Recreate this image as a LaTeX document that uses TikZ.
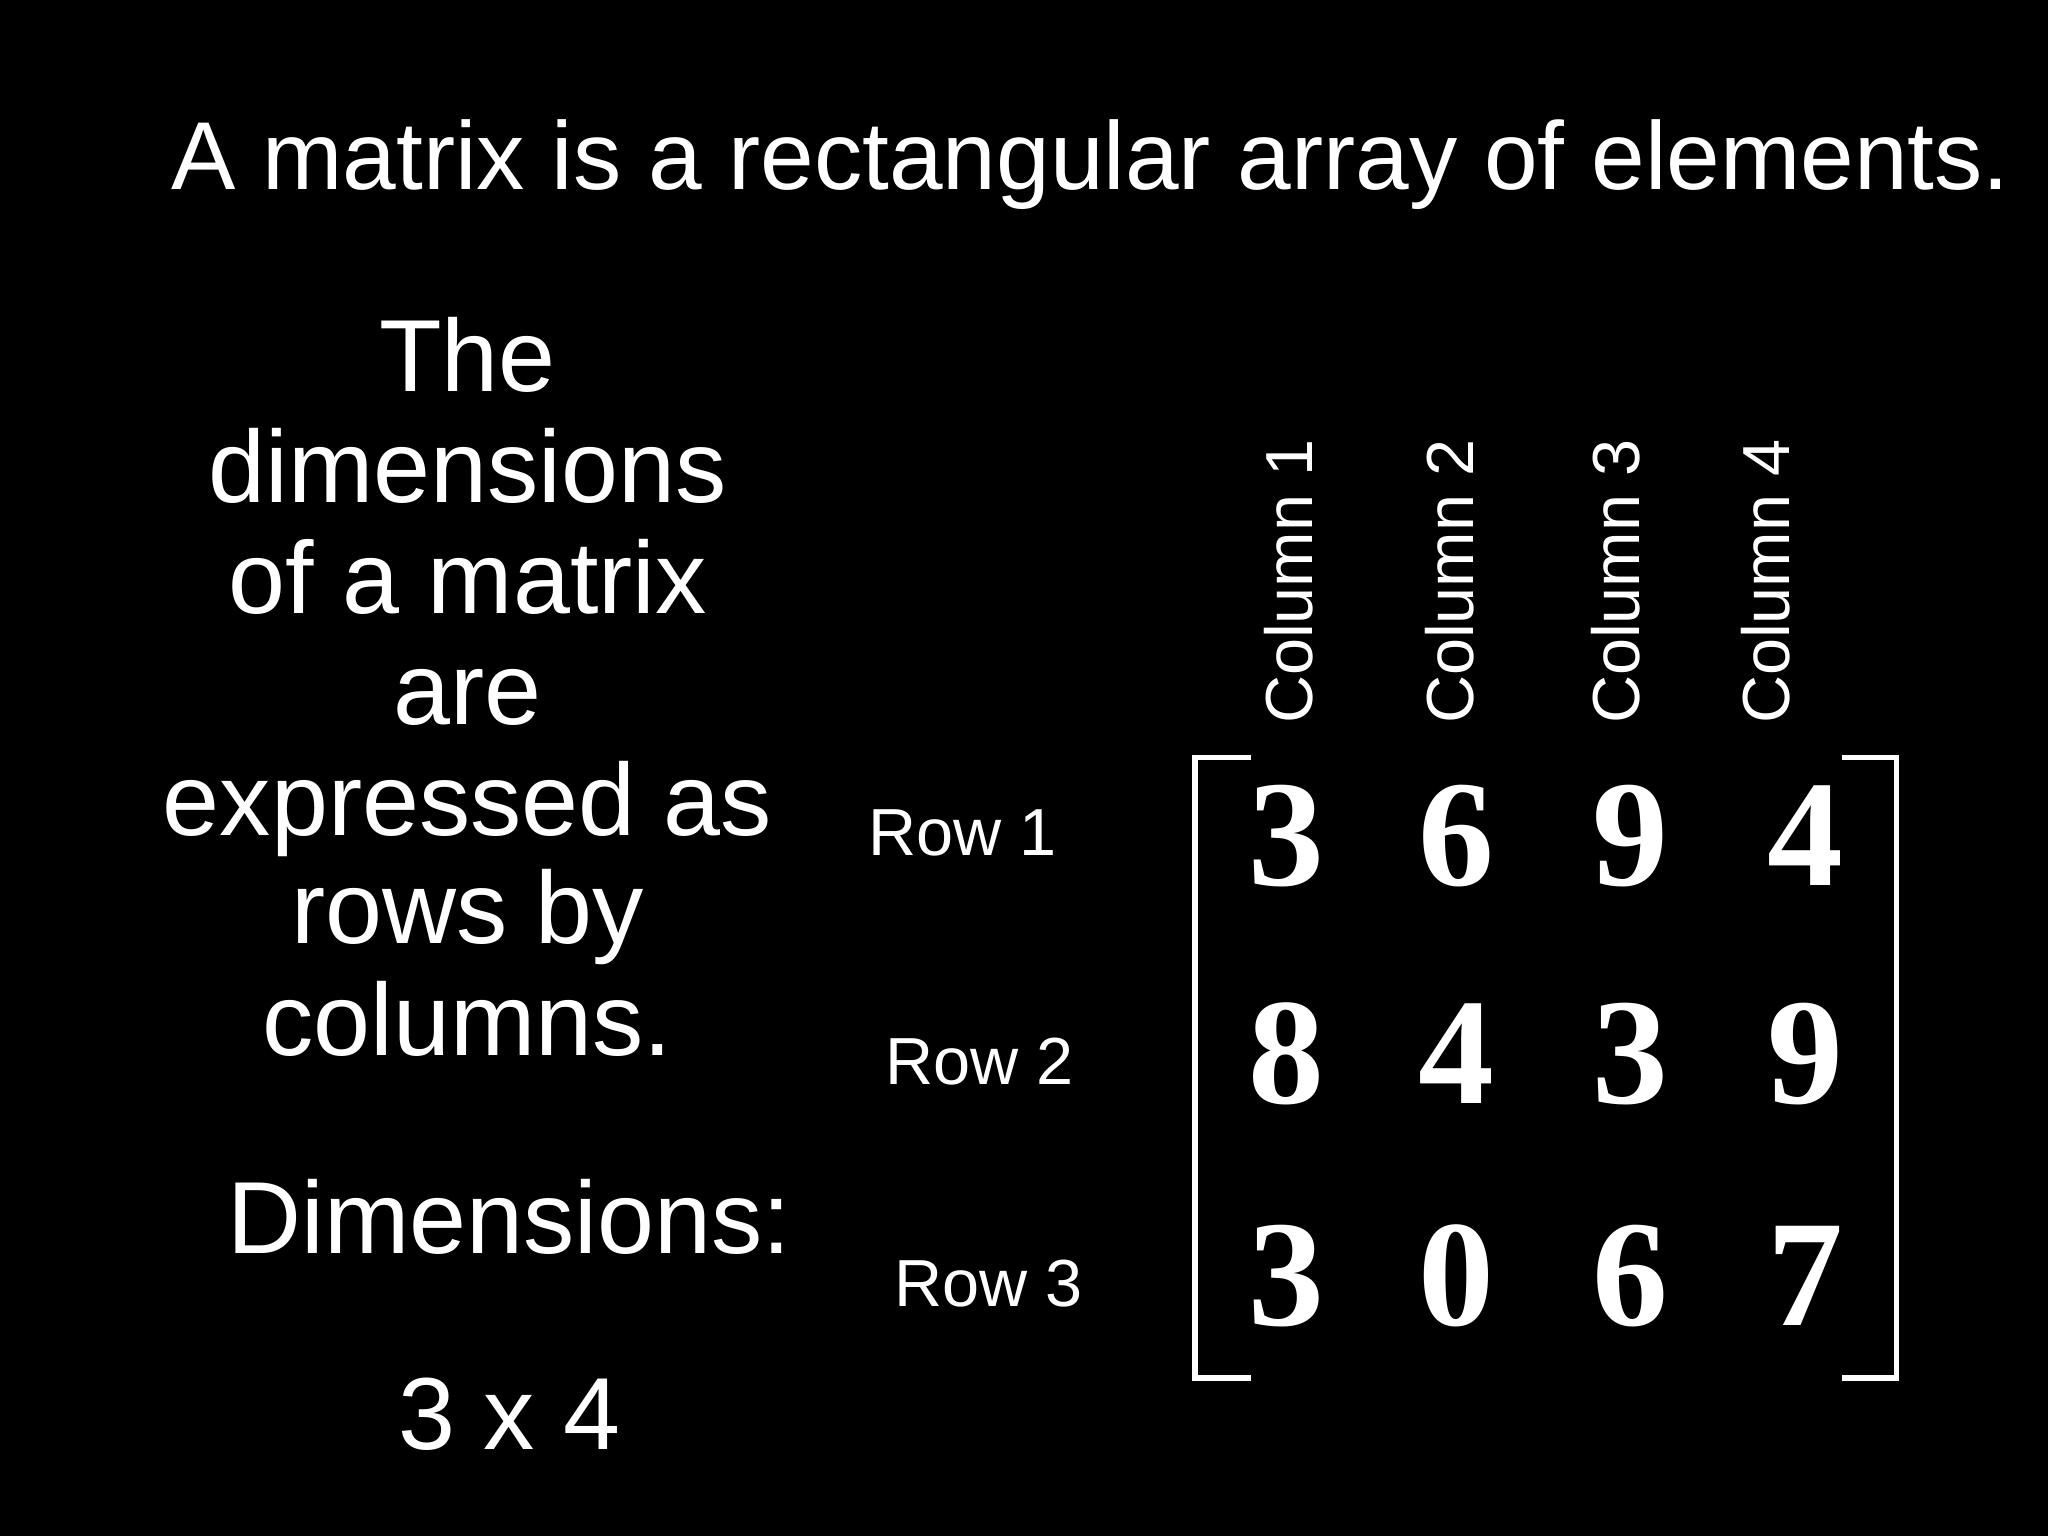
\documentclass[tikz,border=0pt]{standalone}
\usepackage{fontspec}
\setmainfont{Liberation Sans}
\newfontfamily\digitfont{Liberation Serif}
\begin{document}
\begin{tikzpicture}[x=0.01cm,y=-0.01cm,
  txt/.style={text=white,inner sep=0pt,anchor=base},
  big/.style={txt,font=\fontsize{22.3}{24}\selectfont},
  lbl/.style={txt,font=\fontsize{14.5}{16}\selectfont},
  dig/.style={txt,font=\digitfont\bfseries\fontsize{33}{36}\selectfont},
  brk/.style={draw=white,line width=1.2pt}]
\fill[black] (0,0) rectangle (1568,1176);
\useasboundingbox (0,0) rectangle (1568,1176);
\node[txt,font=\fontsize{21}{24}\selectfont] (title) at (835,145) {A matrix is a rectangular array of elements.};
\node[big] (l1) at (358,300) {The};
\node[big] (l2) at (358,385) {dimensions};
\node[big] (l3) at (358,470) {of a matrix};
\node[big] (l4) at (358,555) {are};
\node[big] (l5) at (358,640) {expressed as};
\node[big] (l6) at (358,722) {rows by};
\node[big] (l7) at (358,808) {columns.};
\node[big] (dim) at (390,960) {Dimensions:};
\node[big] (val) at (390,1110) {3 x 4};
\node[lbl] (r1) at (737,655) {Row 1};
\node[lbl] (r2) at (750,830) {Row 2};
\node[lbl] (r3) at (757,1000) {Row 3};
\foreach \x/\n in {1005/1,1128/2,1255/3,1370/4}
  \node[lbl,rotate=90,anchor=base west] (c\n) at (\x,555) {Column \n};
\foreach \row/\y/\a/\b/\c/\d in {1/678/3/6/9/4,2/845/8/4/3/9,3/1015/3/0/6/7}{
  \node[dig] (m\row a) at (985,\y) {\a};
  \node[dig] (m\row b) at (1115,\y) {\b};
  \node[dig] (m\row c) at (1248,\y) {\c};
  \node[dig] (m\row d) at (1382,\y) {\d};
}
\draw[brk] (958,580) -- (915,580) -- (915,1055) -- (958,1055);
\draw[brk] (1410,580) -- (1452,580) -- (1452,1055) -- (1410,1055);
\end{tikzpicture}
\end{document}
